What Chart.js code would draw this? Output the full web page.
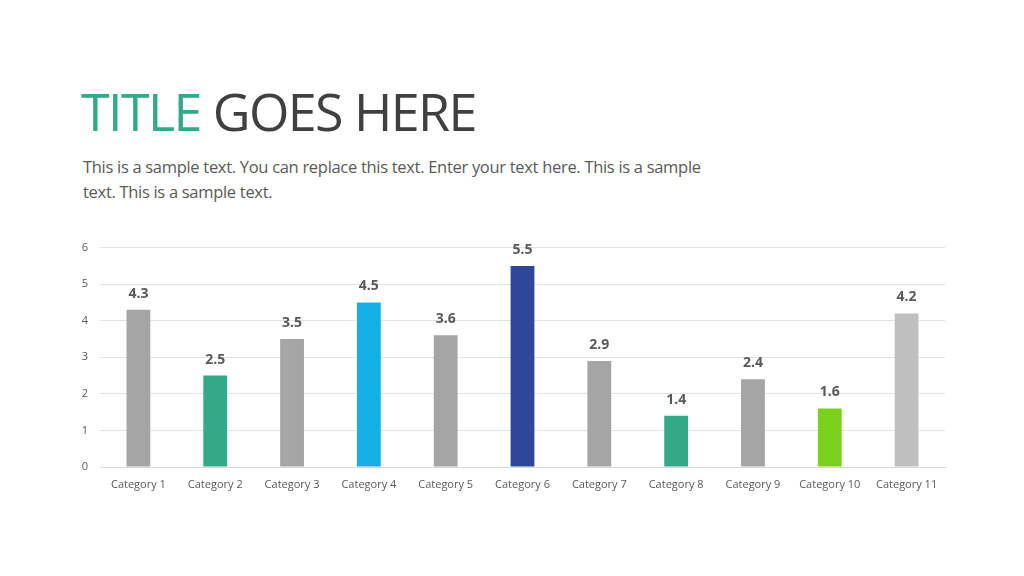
<!DOCTYPE html>
<html>
<head>
<meta charset="utf-8">
<script src="https://cdn.jsdelivr.net/npm/chart.js@4/dist/chart.umd.min.js"></script>
<style>
  html, body { margin: 0; padding: 0; background: #fff; }
  body { width: 1024px; height: 576px; position: relative; overflow: hidden; font-family: "Open Sans", "Noto Sans", sans-serif; }
  #title { position: absolute; left: 81px; top: 75px; margin: 0; font-size: 52px; font-weight: 400; letter-spacing: -1.6px; color: #404040; white-space: nowrap; }
  #title span { color: #34a98a; }
  #sub { position: absolute; left: 83px; top: 154px; width: 645px; margin: 0; font-size: 16.5px; line-height: 25px; letter-spacing: -0.3px; color: #595959; }
  #wrap { position: absolute; left: 75px; top: 229px; width: 880px; height: 268px; }
</style>
</head>
<body>
<h1 id="title"><span>TITLE</span> GOES HERE</h1>
<p id="sub">This is a sample text. You can replace this text. Enter your text here. This is a sample text. This is a sample text.</p>
<div id="wrap"><canvas id="chart"></canvas></div>
<script>
/* ========= DATA ========= */
const categories = ["Category 1", "Category 2", "Category 3", "Category 4", "Category 5", "Category 6",
                    "Category 7", "Category 8", "Category 9", "Category 10", "Category 11"];
const values = [4.3, 2.5, 3.5, 4.5, 3.6, 5.5, 2.9, 1.4, 2.4, 1.6, 4.2];
const barColors = ["#a5a5a5", "#34a98a", "#a5a5a5", "#13b0e6", "#a5a5a5", "#2e4799",
                   "#a5a5a5", "#34a98a", "#a5a5a5", "#7ccf1e", "#bfbfbf"];
const yTicks = [0, 1, 2, 3, 4, 5, 6];

/* ========= VALUE LABELS ========= */
const valueLabels = {
  id: "valueLabels",
  afterDatasetsDraw(chart) {
    const ctx = chart.ctx;
    const meta = chart.getDatasetMeta(0);
    ctx.save();
    ctx.font = "bold 14px 'Open Sans', sans-serif";
    ctx.fillStyle = "#595959";
    ctx.textAlign = "center";
    ctx.textBaseline = "middle";
    meta.data.forEach((bar, i) => {
      ctx.fillText(values[i].toFixed(1), bar.x, bar.y - 16);
    });
    ctx.restore();
  }
};

/* ========= CHART ========= */
new Chart(document.getElementById("chart"), {
  type: "bar",
  data: {
    labels: categories,
    datasets: [{
      data: values,
      backgroundColor: barColors,
      categoryPercentage: 1,
      barPercentage: 0.31
    }]
  },
  options: {
    responsive: true,
    maintainAspectRatio: false,
    animation: false,
    layout: { padding: { top: 2, right: 10, left: 0, bottom: 0 } },
    plugins: { legend: { display: false }, tooltip: { enabled: false } },
    scales: {
      x: {
        grid: { display: false },
        border: { display: true, color: "#d9d9d9" },
        ticks: { color: "#595959", font: { size: 11, family: "'Open Sans', sans-serif" }, padding: 3, maxRotation: 0 },
        afterFit: s => { s.height = 30; }
      },
      y: {
        min: 0, max: 6,
        afterBuildTicks: s => { s.ticks = yTicks.map(v => ({ value: v })); },
        grid: { color: "#e3e3e3", tickLength: 0 },
        border: { display: false },
        ticks: { color: "#595959", font: { size: 11, family: "'Open Sans', sans-serif" }, padding: 12, align: "center" },
        afterFit: s => { s.width = 25; }
      }
    }
  },
  plugins: [valueLabels]
});
</script>
</body>
</html>
